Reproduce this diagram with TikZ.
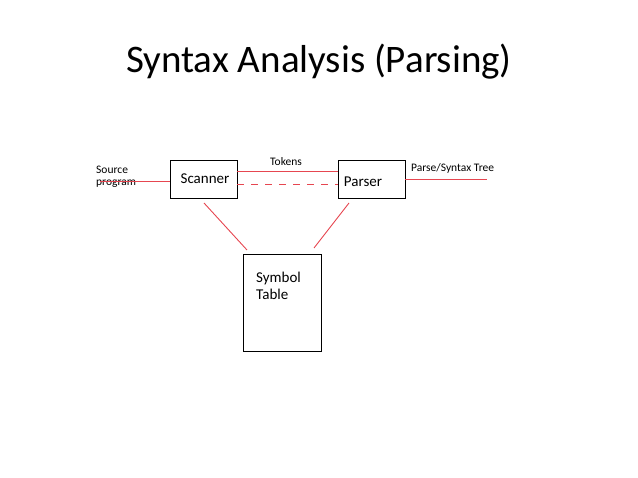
\documentclass[tikz,border=0pt]{standalone}
\usepackage{fontspec}
\setmainfont{Carlito}
\definecolor{lnk}{RGB}{230,70,80}
\begin{document}
\begin{tikzpicture}[x=1pt,y=-1pt,
  box/.style={draw=black,line width=0.8pt},
  link/.style={draw=lnk,line width=0.9pt},
  lbl/.style={font=\fontsize{11.5}{12}\selectfont,align=left,inner sep=0pt},
  txt/.style={font=\fontsize{15}{17}\selectfont,inner sep=0pt,align=left}]
\useasboundingbox (0,0) rectangle (638,478);
\node[font=\fontsize{39}{46}\selectfont] (title) at (319,62) {Syntax Analysis (Parsing)};
\node[box,minimum width=67,minimum height=38] (scan) at (203.5,179) {};
\node[txt] (scant) at (205,179) {Scanner};
\node[box,minimum width=67,minimum height=38] (pars) at (371.5,179) {};
\node[txt] (parst) at (363,182) {Parser};
\node[box,minimum width=78,minimum height=97,anchor=north west] (sym) at (243,254) {};
\node[txt,anchor=north west] (symt) at (256,272) {Symbol\\Table};
\node[lbl,anchor=west] (src) at (96,177) {Source\\program};
\node[lbl] (tok) at (286,162) {Tokens};
\node[lbl,anchor=west] (tree) at (411,168) {Parse/Syntax Tree};
\coordinate (srcE) at (100,181);
\coordinate (treeE) at (487,179);
\coordinate (tokA) at (237,171); \coordinate (tokB) at (338,171);
\coordinate (dA) at (237,184); \coordinate (dB) at (338,184);
\coordinate (d1a) at (204,203); \coordinate (d1b) at (247,250);
\coordinate (d2a) at (349,203); \coordinate (d2b) at (314,248);
\draw[link] (srcE) -- (scan.west |- srcE);
\draw[link] (tokA) -- (tokB);
\draw[link,dash pattern=on 7pt off 7pt] (dA) -- (dB);
\draw[link] (pars.east |- treeE) -- (treeE);
\draw[link] (d1a) -- (d1b);
\draw[link] (d2a) -- (d2b);
\end{tikzpicture}
\end{document}
